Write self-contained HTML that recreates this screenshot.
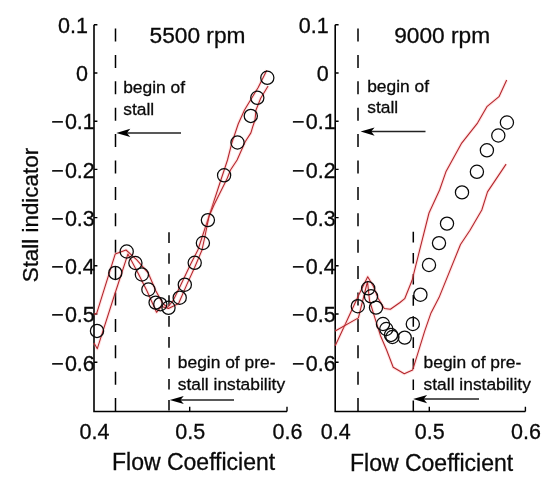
<!DOCTYPE html>
<html lang="en">
<head>
<meta charset="utf-8">
<title>Stall indicator vs flow coefficient</title>
<style>
html,body{margin:0;padding:0;background:#fff;}
body{width:550px;height:488px;overflow:hidden;}
svg{display:block;font-family:"Liberation Sans",Arial,Helvetica,sans-serif;fill:#0a0a0a;}
text{stroke:#0a0a0a;stroke-width:0.3px;}
.tk{font-size:21.5px;}
.tt{font-size:22.7px;}
.an{font-size:17.4px;}
.lb{font-size:23px;}
.yl{font-size:22.4px;}
</style>
</head>
<body>
<svg width="550" height="488" viewBox="0 0 550 488">
<rect width="550" height="488" fill="#ffffff"/>
<path d="M94.0 24.8V411.5H287.0" stroke="#000" stroke-width="1.6" fill="none" stroke-linejoin="miter"/>
<path d="M94.0 24.77h3.4M94.0 72.98h3.4M94.0 121.19h3.4M94.0 169.40h3.4M94.0 217.61h3.4M94.0 265.82h3.4M94.0 314.03h3.4M94.0 362.24h3.4M189.7 411.5v-4.8M287.0 411.5v-4.8" stroke="#000" stroke-width="1.4" fill="none"/>
<path d="M115.50 28.50V41.50M115.50 54.90V67.90M115.50 81.30V94.30M115.50 107.70V120.70M115.50 134.10V147.10M115.50 160.50V173.50M115.50 186.90V199.90M115.50 213.30V226.30M115.50 239.70V252.70M115.50 266.10V279.10M115.50 292.50V305.50M115.50 318.90V331.90M115.50 345.30V358.30M115.50 371.70V384.70M115.50 398.10V411.10" stroke="#000" stroke-width="1.5" fill="none"/>
<path d="M169.00 232.30V242.90M169.00 253.25V263.85M169.00 274.20V284.80M169.00 295.15V305.75M169.00 316.10V326.70M169.00 337.05V347.65M169.00 358.00V368.60M169.00 378.95V389.55M169.00 399.90V410.50" stroke="#000" stroke-width="1.5" fill="none"/>
<text x="87.90" y="32.62" text-anchor="end" class="tk">0.1</text>
<text x="87.90" y="80.92" text-anchor="end" class="tk">0</text>
<text x="94.80" y="129.22" text-anchor="end" class="tk">−<tspan dx="1.1">0.1</tspan></text>
<text x="94.80" y="177.52" text-anchor="end" class="tk">−<tspan dx="1.1">0.2</tspan></text>
<text x="94.80" y="225.82" text-anchor="end" class="tk">−<tspan dx="1.1">0.3</tspan></text>
<text x="94.80" y="274.12" text-anchor="end" class="tk">−<tspan dx="1.1">0.4</tspan></text>
<text x="94.80" y="322.42" text-anchor="end" class="tk">−<tspan dx="1.1">0.5</tspan></text>
<text x="94.80" y="370.72" text-anchor="end" class="tk">−<tspan dx="1.1">0.6</tspan></text>
<text x="94.5" y="438.5" text-anchor="middle" class="tk">0.4</text>
<text x="190.2" y="438.5" text-anchor="middle" class="tk">0.5</text>
<text x="287.5" y="438.5" text-anchor="middle" class="tk">0.6</text>
<path d="M94.0 314.3L96.6 313.6L115.2 254.1L126.0 250.0L136.8 259.8L148.3 273.2L155.9 291.0L162.5 303.0L167.4 307.5L172.9 300.9L180.5 285.6L190.7 264.0L197.9 250.0L200.5 242.0L209.1 216.0L221.2 179.0L224.2 170.0L227.5 160.0L231.8 143.1L238.2 124.0L244.5 110.0L258.2 87.4L266.8 70.2" stroke="#ff9a9a" stroke-opacity="0.28" stroke-width="3.2" fill="none" stroke-linejoin="round"/>
<path d="M94.0 314.3L96.6 313.6L115.2 254.1L126.0 250.0L136.8 259.8L148.3 273.2L155.9 291.0L162.5 303.0L167.4 307.5L172.9 300.9L180.5 285.6L190.7 264.0L197.9 250.0L200.5 242.0L209.1 216.0L221.2 179.0L224.2 170.0L227.5 160.0L231.8 143.1L238.2 124.0L244.5 110.0L258.2 87.4L266.8 70.2" stroke="#b3242a" stroke-width="1.05" fill="none" stroke-linejoin="round"/>
<path d="M94.0 343.0L97.3 348.7L114.5 295.0L127.9 254.1L138.1 273.2L147.0 291.0L156.5 312.3L161.5 306.5L168.5 308.5L178.6 303.5L186.9 284.4L194.5 267.8L202.0 250.0L204.8 237.0L209.1 216.0L214.2 204.5L226.9 179.1L230.5 170.0L237.1 160.0L245.2 141.8L250.9 132.9L252.8 126.5L255.0 120.0L256.0 110.0L260.7 98.2L268.1 86.1" stroke="#ff9a9a" stroke-opacity="0.28" stroke-width="3.2" fill="none" stroke-linejoin="round"/>
<path d="M94.0 343.0L97.3 348.7L114.5 295.0L127.9 254.1L138.1 273.2L147.0 291.0L156.5 312.3L161.5 306.5L168.5 308.5L178.6 303.5L186.9 284.4L194.5 267.8L202.0 250.0L204.8 237.0L209.1 216.0L214.2 204.5L226.9 179.1L230.5 170.0L237.1 160.0L245.2 141.8L250.9 132.9L252.8 126.5L255.0 120.0L256.0 110.0L260.7 98.2L268.1 86.1" stroke="#b3242a" stroke-width="1.05" fill="none" stroke-linejoin="round"/>
<circle cx="97.0" cy="330.9" r="6.6" fill="none" stroke="#0a0a0a" stroke-width="1.25"/>
<circle cx="115.3" cy="272.9" r="6.6" fill="none" stroke="#0a0a0a" stroke-width="1.25"/>
<circle cx="126.7" cy="251.5" r="6.6" fill="none" stroke="#0a0a0a" stroke-width="1.25"/>
<circle cx="135.4" cy="263.0" r="6.6" fill="none" stroke="#0a0a0a" stroke-width="1.25"/>
<circle cx="141.9" cy="274.5" r="6.6" fill="none" stroke="#0a0a0a" stroke-width="1.25"/>
<circle cx="148.4" cy="289.5" r="6.6" fill="none" stroke="#0a0a0a" stroke-width="1.25"/>
<circle cx="155.6" cy="302.6" r="6.6" fill="none" stroke="#0a0a0a" stroke-width="1.25"/>
<circle cx="160.3" cy="304.2" r="6.6" fill="none" stroke="#0a0a0a" stroke-width="1.25"/>
<circle cx="168.5" cy="307.8" r="6.6" fill="none" stroke="#0a0a0a" stroke-width="1.25"/>
<circle cx="179.7" cy="297.7" r="6.6" fill="none" stroke="#0a0a0a" stroke-width="1.25"/>
<circle cx="184.8" cy="284.7" r="6.6" fill="none" stroke="#0a0a0a" stroke-width="1.25"/>
<circle cx="194.7" cy="262.8" r="6.6" fill="none" stroke="#0a0a0a" stroke-width="1.25"/>
<circle cx="202.9" cy="243.0" r="6.6" fill="none" stroke="#0a0a0a" stroke-width="1.25"/>
<circle cx="207.9" cy="220.1" r="6.6" fill="none" stroke="#0a0a0a" stroke-width="1.25"/>
<circle cx="224.1" cy="175.3" r="6.6" fill="none" stroke="#0a0a0a" stroke-width="1.25"/>
<circle cx="237.5" cy="142.5" r="6.6" fill="none" stroke="#0a0a0a" stroke-width="1.25"/>
<circle cx="250.8" cy="115.9" r="6.6" fill="none" stroke="#0a0a0a" stroke-width="1.25"/>
<circle cx="257.3" cy="97.8" r="6.6" fill="none" stroke="#0a0a0a" stroke-width="1.25"/>
<circle cx="267.3" cy="77.8" r="6.6" fill="none" stroke="#0a0a0a" stroke-width="1.25"/>
<path d="M124.3 132.9H181.0" stroke="#222" stroke-width="1.5" fill="none"/>
<path d="M116.3 132.9L130.3 128.8L126.89999999999999 132.9L130.3 137.0Z" fill="#000"/>
<path d="M177.8 400.0H234.0" stroke="#222" stroke-width="1.5" fill="none"/>
<path d="M169.8 400.0L183.8 395.9L180.4 400.0L183.8 404.1Z" fill="#000"/>
<path d="M335.2 24.8V411.5H525.4" stroke="#000" stroke-width="1.6" fill="none" stroke-linejoin="miter"/>
<path d="M335.2 24.77h3.4M335.2 72.98h3.4M335.2 121.19h3.4M335.2 169.40h3.4M335.2 217.61h3.4M335.2 265.82h3.4M335.2 314.03h3.4M335.2 362.24h3.4M429.3 411.5v-4.8M525.4 411.5v-4.8" stroke="#000" stroke-width="1.4" fill="none"/>
<path d="M358.00 28.50V41.50M358.00 54.90V67.90M358.00 81.30V94.30M358.00 107.70V120.70M358.00 134.10V147.10M358.00 160.50V173.50M358.00 186.90V199.90M358.00 213.30V226.30M358.00 239.70V252.70M358.00 266.10V279.10M358.00 292.50V305.50M358.00 318.90V331.90M358.00 345.30V358.30M358.00 371.70V384.70M358.00 398.10V411.10" stroke="#000" stroke-width="1.5" fill="none"/>
<path d="M413.30 231.80V242.40M413.30 252.90V263.50M413.30 274.00V284.60M413.30 295.10V305.70M413.30 316.20V326.80M413.30 337.30V347.90M413.30 358.40V369.00M413.30 379.50V390.10M413.30 400.60V411.20" stroke="#000" stroke-width="1.5" fill="none"/>
<text x="328.70" y="32.62" text-anchor="end" class="tk">0.1</text>
<text x="328.70" y="80.92" text-anchor="end" class="tk">0</text>
<text x="335.60" y="129.22" text-anchor="end" class="tk">−<tspan dx="1.1">0.1</tspan></text>
<text x="335.60" y="177.52" text-anchor="end" class="tk">−<tspan dx="1.1">0.2</tspan></text>
<text x="335.60" y="225.82" text-anchor="end" class="tk">−<tspan dx="1.1">0.3</tspan></text>
<text x="335.60" y="274.12" text-anchor="end" class="tk">−<tspan dx="1.1">0.4</tspan></text>
<text x="335.60" y="322.42" text-anchor="end" class="tk">−<tspan dx="1.1">0.5</tspan></text>
<text x="335.60" y="370.72" text-anchor="end" class="tk">−<tspan dx="1.1">0.6</tspan></text>
<text x="335.7" y="438.5" text-anchor="middle" class="tk">0.4</text>
<text x="429.8" y="438.5" text-anchor="middle" class="tk">0.5</text>
<text x="525.9" y="438.5" text-anchor="middle" class="tk">0.6</text>
<path d="M335.2 345.8L344.9 325.0L358.4 295.7L367.7 276.7L373.2 285.9L378.1 298.2L384.3 308.6L390.4 309.3L400.0 302.5L404.7 298.7L412.1 280.3L416.0 264.6L429.0 213.0L439.6 190.0L445.9 171.8L461.7 143.1L477.5 123.1L486.9 106.7L499.0 96.7L506.7 80.0" stroke="#ff9a9a" stroke-opacity="0.28" stroke-width="3.2" fill="none" stroke-linejoin="round"/>
<path d="M335.2 345.8L344.9 325.0L358.4 295.7L367.7 276.7L373.2 285.9L378.1 298.2L384.3 308.6L390.4 309.3L400.0 302.5L404.7 298.7L412.1 280.3L416.0 264.6L429.0 213.0L439.6 190.0L445.9 171.8L461.7 143.1L477.5 123.1L486.9 106.7L499.0 96.7L506.7 80.0" stroke="#b3242a" stroke-width="1.05" fill="none" stroke-linejoin="round"/>
<path d="M335.2 331.0L358.4 317.9L367.5 281.5L369.5 300.5L375.8 320.8L380.3 335.2L386.6 350.0L393.2 367.3L404.3 373.8L412.6 370.1L417.2 355.4L424.6 331.4L431.0 312.9L439.0 297.6L460.5 244.5L470.0 230.2L481.8 210.0L487.5 191.9L506.1 164.1" stroke="#ff9a9a" stroke-opacity="0.28" stroke-width="3.2" fill="none" stroke-linejoin="round"/>
<path d="M335.2 331.0L358.4 317.9L367.5 281.5L369.5 300.5L375.8 320.8L380.3 335.2L386.6 350.0L393.2 367.3L404.3 373.8L412.6 370.1L417.2 355.4L424.6 331.4L431.0 312.9L439.0 297.6L460.5 244.5L470.0 230.2L481.8 210.0L487.5 191.9L506.1 164.1" stroke="#b3242a" stroke-width="1.05" fill="none" stroke-linejoin="round"/>
<circle cx="357.8" cy="306.2" r="6.6" fill="none" stroke="#0a0a0a" stroke-width="1.25"/>
<circle cx="368.2" cy="288.3" r="6.6" fill="none" stroke="#0a0a0a" stroke-width="1.25"/>
<circle cx="371.0" cy="296.3" r="6.6" fill="none" stroke="#0a0a0a" stroke-width="1.25"/>
<circle cx="376.0" cy="307.6" r="6.6" fill="none" stroke="#0a0a0a" stroke-width="1.25"/>
<circle cx="383.0" cy="324.0" r="6.6" fill="none" stroke="#0a0a0a" stroke-width="1.25"/>
<circle cx="386.3" cy="329.0" r="6.6" fill="none" stroke="#0a0a0a" stroke-width="1.25"/>
<circle cx="391.0" cy="334.9" r="6.6" fill="none" stroke="#0a0a0a" stroke-width="1.25"/>
<circle cx="392.4" cy="337.0" r="6.6" fill="none" stroke="#0a0a0a" stroke-width="1.25"/>
<circle cx="404.7" cy="337.6" r="6.6" fill="none" stroke="#0a0a0a" stroke-width="1.25"/>
<circle cx="412.8" cy="324.0" r="6.6" fill="none" stroke="#0a0a0a" stroke-width="1.25"/>
<circle cx="420.4" cy="294.7" r="6.6" fill="none" stroke="#0a0a0a" stroke-width="1.25"/>
<circle cx="429.0" cy="265.0" r="6.6" fill="none" stroke="#0a0a0a" stroke-width="1.25"/>
<circle cx="439.0" cy="243.1" r="6.6" fill="none" stroke="#0a0a0a" stroke-width="1.25"/>
<circle cx="447.0" cy="223.6" r="6.6" fill="none" stroke="#0a0a0a" stroke-width="1.25"/>
<circle cx="462.0" cy="192.4" r="6.6" fill="none" stroke="#0a0a0a" stroke-width="1.25"/>
<circle cx="476.9" cy="171.8" r="6.6" fill="none" stroke="#0a0a0a" stroke-width="1.25"/>
<circle cx="486.9" cy="150.3" r="6.6" fill="none" stroke="#0a0a0a" stroke-width="1.25"/>
<circle cx="498.3" cy="135.5" r="6.6" fill="none" stroke="#0a0a0a" stroke-width="1.25"/>
<circle cx="506.9" cy="122.5" r="6.6" fill="none" stroke="#0a0a0a" stroke-width="1.25"/>
<path d="M368.6 131.6H425.5" stroke="#222" stroke-width="1.5" fill="none"/>
<path d="M360.6 131.6L374.6 127.5L371.20000000000005 131.6L374.6 135.7Z" fill="#000"/>
<path d="M421.1 399.1H479.0" stroke="#222" stroke-width="1.5" fill="none"/>
<path d="M413.1 399.1L427.1 395.0L423.70000000000005 399.1L427.1 403.20000000000005Z" fill="#000"/>
<text x="149.6" y="43.4" class="tt">5500 rpm</text>
<text x="394.2" y="42.8" class="tt">9000 rpm</text>
<text x="123.2" y="92.8" class="an">begin of</text>
<text x="123.2" y="114.8" class="an">stall</text>
<text x="367.2" y="91.5" class="an">begin of</text>
<text x="367.2" y="113.1" class="an">stall</text>
<text x="177.8" y="368.2" class="an">begin of pre-</text>
<text x="177.8" y="389.5" class="an">stall instability</text>
<text x="423.6" y="368.1" class="an">begin of pre-</text>
<text x="423.6" y="389.6" class="an">stall instability</text>
<text x="112.0" y="469.6" class="lb">Flow Coefficient</text>
<text x="350.0" y="470.5" class="lb">Flow Coefficient</text>
<text transform="translate(37.6 282.3) rotate(-90)" class="yl">Stall indicator</text>
</svg>
</body>
</html>
